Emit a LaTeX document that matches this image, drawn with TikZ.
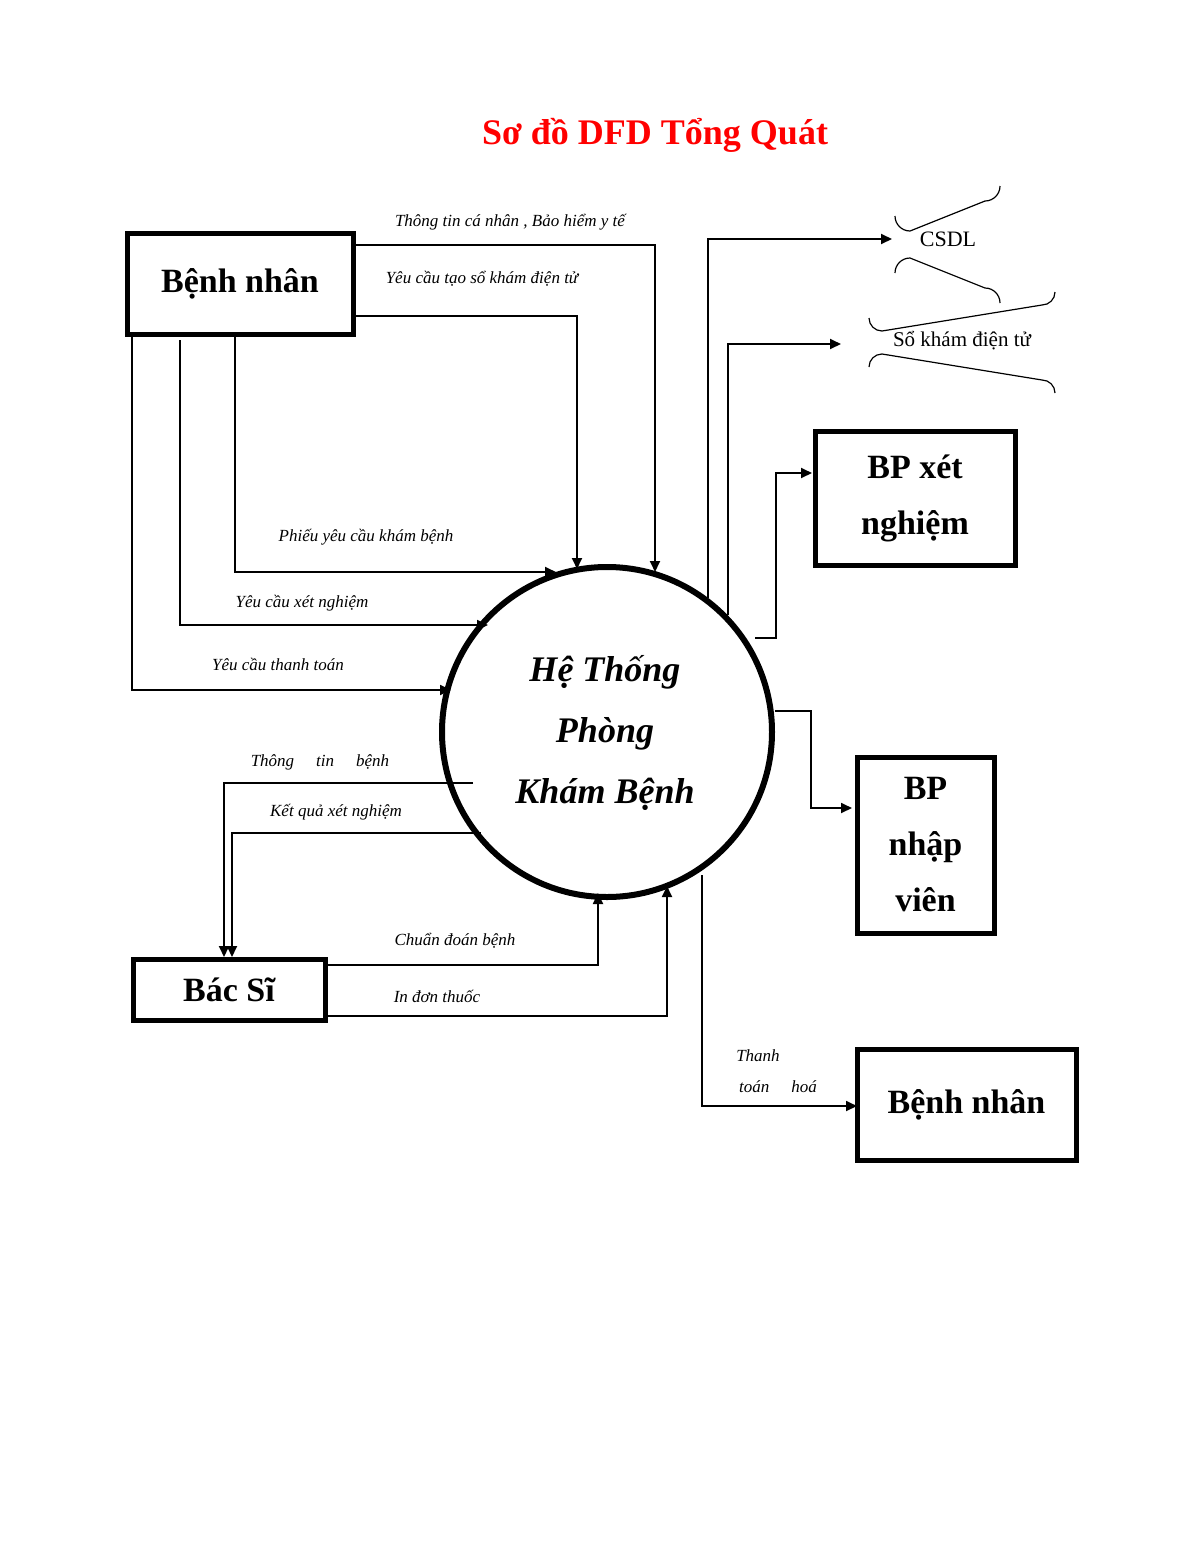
\documentclass[tikz,border=0pt]{standalone}
\usepackage{fontspec}
\setmainfont{Liberation Serif}
\usetikzlibrary{arrows.meta}
\begin{document}
\begin{tikzpicture}[x=1pt,y=-1pt,
  ent/.style={draw,line width=5pt,inner sep=0pt,font=\fontsize{34}{56}\selectfont\bfseries,align=center},
  flow/.style={line width=1.8pt,-{Triangle[length=11pt,width=10pt]}},
  lab/.style={font=\fontsize{17}{20}\selectfont\itshape,inner sep=0pt},
  store/.style={line width=1.2pt}]
\useasboundingbox (0,0) rectangle (1200,1553);
\node[text=red,font=\fontsize{36}{40}\selectfont\bfseries] (title) at (655,135) {Sơ đồ DFD Tổng Quát};
% entities
\node[ent,minimum width=226pt,minimum height=101pt] (bn) at (240,283.5) {Bệnh nhân};
\node[ent,minimum width=200pt,minimum height=134pt] (xn) at (915,498) {BP xét\\nghiệm};
\node[ent,minimum width=137pt,minimum height=176pt] (nv) at (925.5,845) {BP\\nhập\\viên};
\node[ent,minimum width=219pt,minimum height=111pt] (bn2) at (966.5,1104.5) {Bệnh nhân};
\node[ent,minimum width=192pt,minimum height=61pt] (bs) at (229,989.5) {Bác Sĩ};
% process
\node[circle,draw,line width=6pt,minimum size=330pt,inner sep=0pt] (c) at (607,732) {};
\node[font=\fontsize{36}{61}\selectfont\bfseries\itshape,align=center] (ct) at (605,733) {Hệ Thống\\Phòng\\Khám Bệnh};
% stores
\node[font=\fontsize{22}{24}\selectfont] (db) at (948,239) {CSDL};
\draw[store] (895,216) arc[start angle=180,end angle=90,radius=15] -- (985,201) arc[start angle=90,end angle=0,radius=15];
\draw[store] (895,273) arc[start angle=180,end angle=270,radius=15] -- (985,288) arc[start angle=270,end angle=360,radius=15];
\node[font=\fontsize{21}{24}\selectfont] (sk) at (962,341) {Sổ khám điện tử};
\draw[store] (869,318) arc[start angle=180,end angle=90,radius=13] -- (1042,305) arc[start angle=90,end angle=0,radius=13];
\draw[store] (869,367) arc[start angle=180,end angle=270,radius=13] -- (1042,380) arc[start angle=270,end angle=360,radius=13];
% coordinates
\coordinate (a1) at (353,245); \coordinate (e1) at (655,572);
\coordinate (a2) at (353,316); \coordinate (e2) at (577,569);
\coordinate (a3) at (235,334); \coordinate (e3) at (556,572);
\coordinate (a4) at (180,340); \coordinate (e4) at (488,625);
\coordinate (a5) at (132,334); \coordinate (e5) at (451,690);
\coordinate (a6) at (473,783); \coordinate (e6) at (224,957);
\coordinate (a7) at (481,833); \coordinate (e7) at (232,957);
\coordinate (a8) at (325,965); \coordinate (e8) at (598,893);
\coordinate (a9) at (325,1016); \coordinate (e9) at (667,886);
\coordinate (a10) at (702,875); \coordinate (e10) at (857,1106);
\coordinate (a11) at (708,598); \coordinate (e11) at (892,239);
\coordinate (a12) at (728,615); \coordinate (e12) at (841,344);
\coordinate (a13) at (755,638); \coordinate (e13) at (812,473);
\coordinate (a14) at (775,711); \coordinate (e14) at (852,808);
% flows
\draw[flow] (a1) -| (e1);
\draw[flow] (a2) -| (e2);
\draw[flow] (a3) |- (e3);
\draw[flow] (a4) |- (e4);
\draw[flow] (a5) |- (e5);
\draw[flow] (a6) -| (e6);
\draw[flow] (a7) -| (e7);
\draw[flow] (a8) -| (e8);
\draw[flow] (a9) -| (e9);
\draw[flow] (a10) |- (e10);
\draw[flow] (a11) |- (e11);
\draw[flow] (a12) |- (e12);
\draw[flow] (a13) -- (776,638) |- (e13);
\draw[flow] (a14) -- (811,711) |- (e14);
% labels
\node[lab] (l1) at (510,222) {Thông tin cá nhân , Bảo hiểm y tế};
\node[lab] (l2) at (482,279) {Yêu cầu tạo sổ khám điện tử};
\node[lab] (l3) at (366,537) {Phiếu yêu cầu khám bệnh};
\node[lab] (l4) at (302,603) {Yêu cầu xét nghiệm};
\node[lab] (l5) at (278,664) {Yêu cầu thanh toán};
\node[lab] (l6) at (320,762) {Thông\hspace{22pt}tin\hspace{22pt}bệnh};
\node[lab] (l7) at (336,812) {Kết quả xét nghiệm};
\node[lab] (l8) at (455,941) {Chuẩn đoán bệnh};
\node[lab] (l9) at (437,996) {In đơn thuốc};
\node[lab] (l10) at (758,1056) {Thanh};
\node[lab] (l11) at (778,1087) {toán\hspace{22pt}hoá};
\end{tikzpicture}
\end{document}
